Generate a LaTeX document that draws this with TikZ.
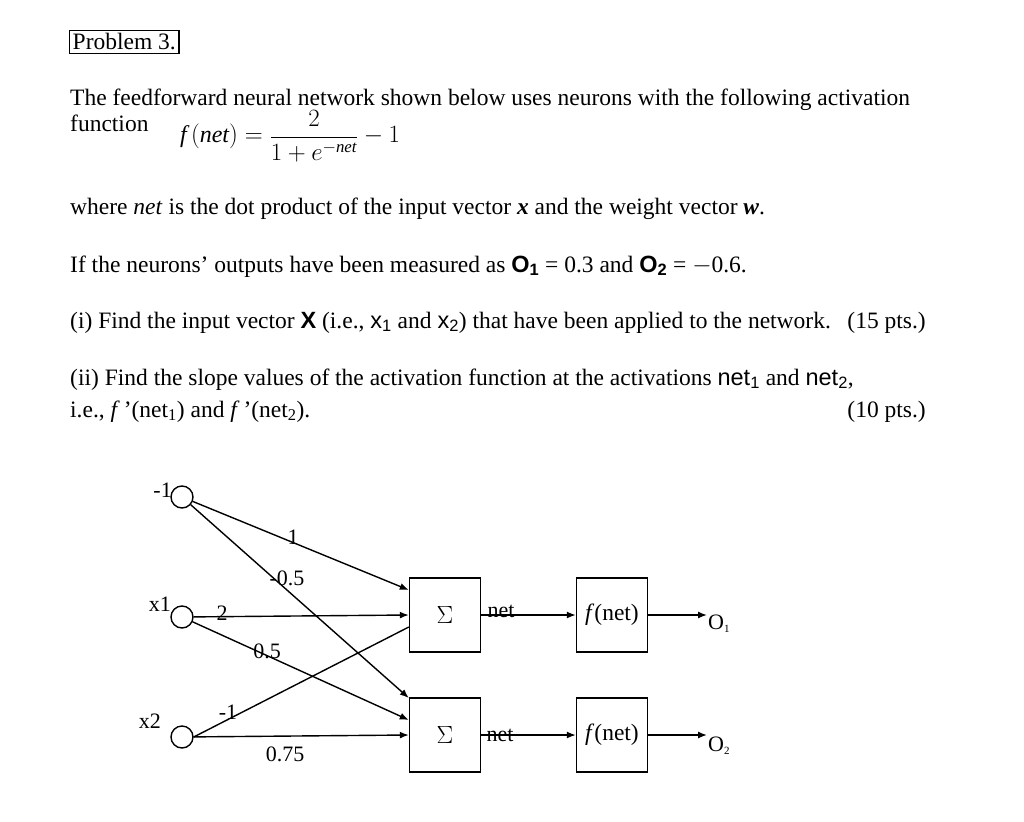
\documentclass[tikz,border=0pt]{standalone}
\usepackage{fontspec}
\setmainfont{Liberation Serif}
\newfontfamily\hsf{Liberation Sans}
\usetikzlibrary{arrows.meta}
\begin{document}
\begin{tikzpicture}[x=1pt,y=-1pt,font=\fontsize{23.5}{26}\selectfont,
  txt/.style={anchor=base west,inner sep=0pt},
  neu/.style={circle,draw,minimum size=22pt,inner sep=0pt,line width=1.4pt},
  blk/.style={draw,minimum width=71pt,minimum height=74pt,line width=1.4pt,inner sep=0pt},
  wire/.style={line width=1.4pt,-{Latex[length=9pt,width=7pt]}},
  plain/.style={line width=1.4pt},
  lbl/.style={inner sep=0pt,font=\fontsize{22}{24}\selectfont}]
\useasboundingbox (0,0) rectangle (1024,821);
\node[draw,line width=1.4pt,inner sep=3pt,anchor=base west] (pb) at (69,50) {Problem 3.};
\node[txt] (t1) at (70,106) {The feedforward neural network shown below uses neurons with the following activation};
\node[txt] (t2) at (70,132) {function};
\node[txt] (fm) at (180,143) {\fontsize{24}{26}\selectfont $\displaystyle\mathit{f}\,(\mathit{net}) = \frac{2}{1+e^{-\mathit{net}}} - 1$};
\node[txt] (t3) at (70,214) {where \textit{net} is the dot product of the input vector \textbf{\textit{x}} and the weight vector \textbf{\textit{w}}.};
\node[txt] (t4) at (70,272) {If the neurons' outputs have been measured as {\hsf\bfseries O\textsubscript{1}} = 0.3 and {\hsf\bfseries O\textsubscript{2}} = $-$0.6.};
\node[txt] (t5) at (70,328) {(i) Find the input vector {\hsf\bfseries X} (i.e., {\hsf x\textsubscript{1}} and {\hsf x\textsubscript{2}}) that have been applied to the network.};
\node[inner sep=0pt,anchor=base east] (p1) at (926,328) {(15 pts.)};
\node[txt] (t6) at (70,385) {(ii) Find the slope values of the activation function at the activations {\hsf net\textsubscript{1}} and {\hsf net\textsubscript{2}},};
\node[txt] (t7) at (70,417) {i.e., \textit{f}\,'(net\textsubscript{1}) and \textit{f}\,'(net\textsubscript{2}).};
\node[inner sep=0pt,anchor=base east] (p2) at (926,417) {(10 pts.)};
% network
\node[neu] (a) at (182,497) {};
\node[neu] (b) at (182,617) {};
\node[neu] (c) at (182,737) {};
\node[lbl,anchor=east] (la) at (172,490) {-1};
\node[lbl,anchor=east] (lb) at (171,604) {x1};
\node[lbl,anchor=east] (lc) at (161,721) {x2};
\node[blk] (s1) at (445,615) {\fontsize{44}{46}\selectfont$\Sigma$};
\node[blk] (s2) at (445,735) {\fontsize{44}{46}\selectfont$\Sigma$};
\node[blk] (f1) at (612,615) {\textit{f}(net)};
\node[blk] (f2) at (612,735) {\textit{f}(net)};
\coordinate (o1) at (707,615);
\coordinate (o2) at (707,735);
\node[lbl,anchor=west] (lo1) at (708,624) {O\textsubscript{\fontsize{11}{11}\selectfont 1}};
\node[lbl,anchor=west] (lo2) at (708,746) {O\textsubscript{\fontsize{11}{11}\selectfont 2}};
\draw[wire] (a) -- ([yshift=25pt]s1.west);
\draw[wire] (a) -- ([yshift=37pt]s2.west);
\draw[wire] (b) -- (s1.west);
\draw[wire] (b) -- ([yshift=15pt]s2.west);
\draw[plain] (c.east) -- ([yshift=-12pt]s1.west);
\draw[wire] (c) -- (s2.west);
\draw[wire] (s1) -- (f1);
\draw[wire] (s2) -- (f2);
\draw[wire] (f1) -- (o1);
\draw[wire] (f2) -- (o2);
\node[lbl] (w1) at (293,537) {1};
\node[lbl] (w2) at (287,578) {-0.5};
\node[lbl] (w3) at (222,613) {2};
\node[lbl] (w4) at (267,651) {0.5};
\node[lbl] (w5) at (228,712) {-1};
\node[lbl] (w6) at (285,754) {0.75};
\node[lbl] (n1) at (501,611) {net};
\node[lbl] (n2) at (500,735) {net};
\end{tikzpicture}
\end{document}
